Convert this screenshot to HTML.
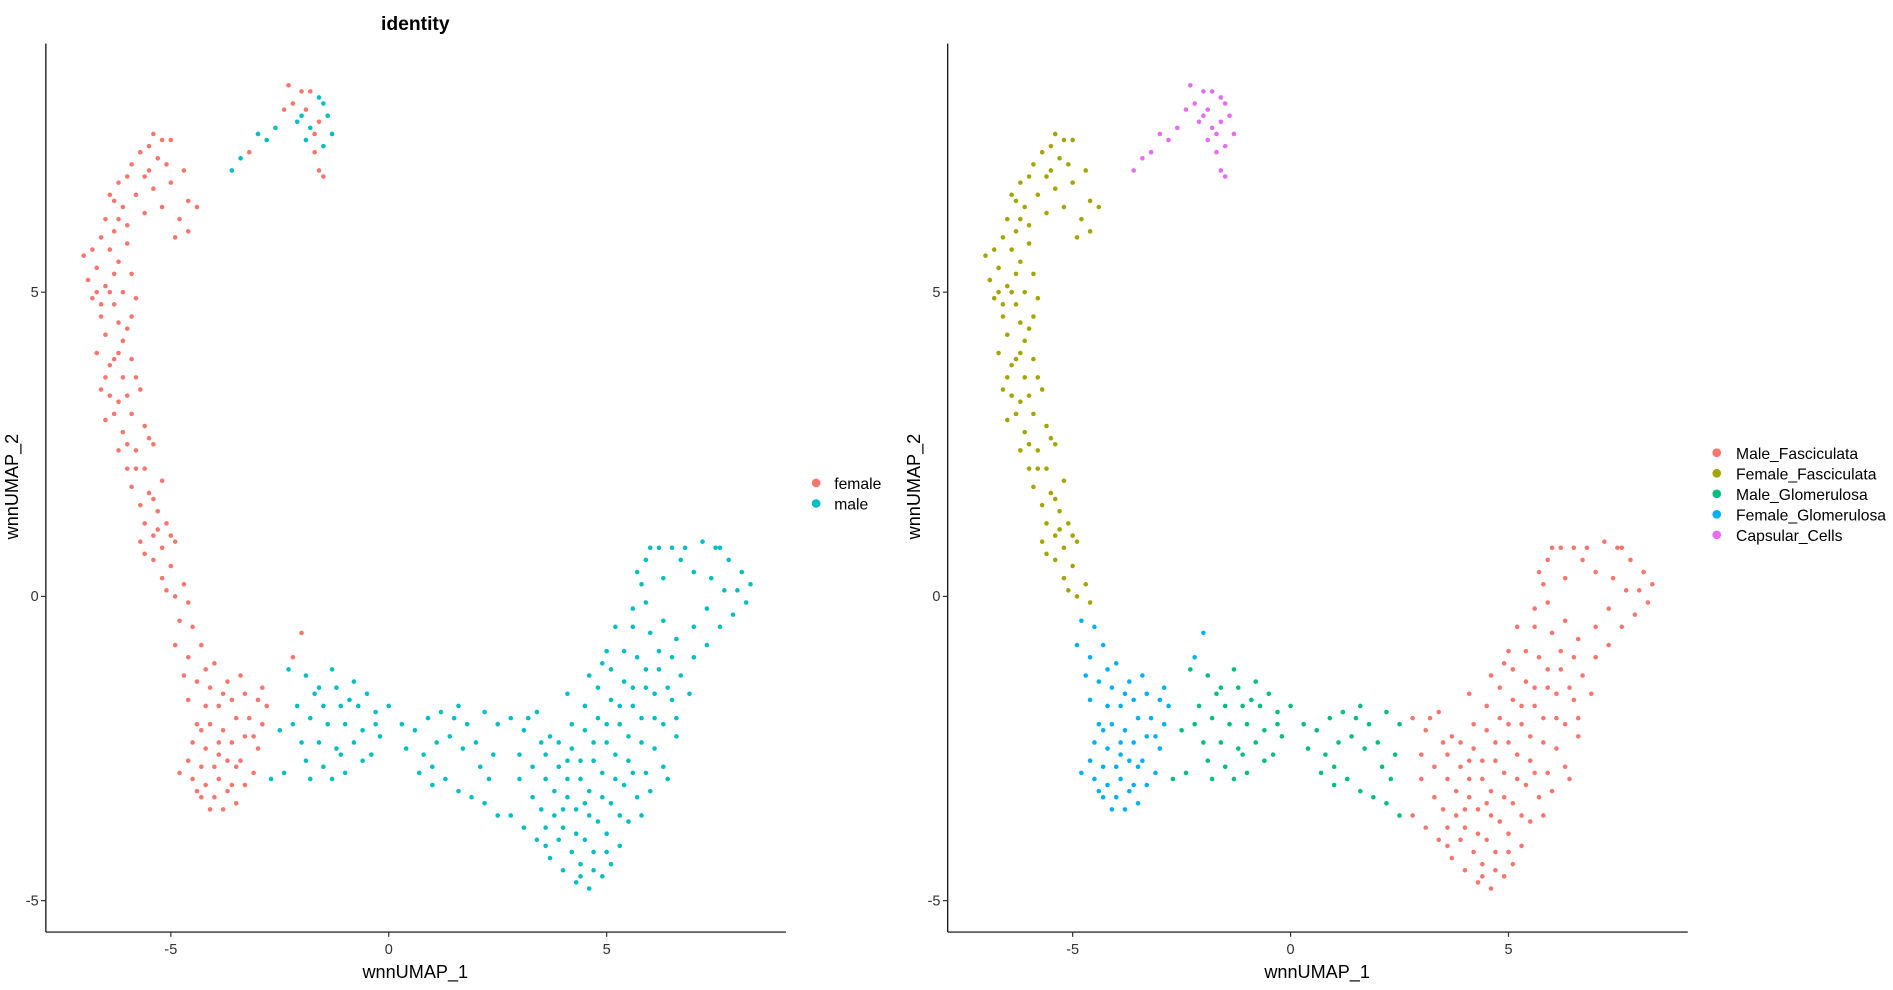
<!DOCTYPE html>
<html><head><meta charset="utf-8"><style>
html,body{margin:0;padding:0;background:#fff;}
svg{display:block;font-family:"Liberation Sans",Arial,sans-serif;}
</style></head><body>
<svg id="chart" width="1893" height="990" viewBox="0 0 1568 820" preserveAspectRatio="none" xmlns="http://www.w3.org/2000/svg">
<rect x="0" y="0" width="1568" height="820" fill="#fff"/>
</svg>
<script>
const xTicks=[-5,0,5];
const yTicks=[-5,0,5];
const ffPts=[[-5.4,7.6],[-5.2,7.5],[-5.5,7.4],[-5.0,7.5],[-5.7,7.3],[-5.3,7.2],[-5.9,7.1],[-5.1,7.1],[-6.0,6.9],[-5.6,6.9],[-4.7,7.0],[-6.2,6.8],[-5.8,6.6],[-5.4,6.7],[-5.0,6.8],[-6.4,6.6],[-6.1,6.4],[-4.6,6.5],[-4.4,6.4],[-4.8,6.2],[-4.6,6.0],[-4.9,5.9],[-5.2,6.4],[-6.5,6.2],[-6.3,6.0],[-6.0,6.1],[-6.6,5.9],[-6.8,5.7],[-6.4,5.7],[-7.0,5.6],[-6.7,5.4],[-6.2,5.5],[-6.9,5.2],[-6.5,5.1],[-6.1,5.0],[-6.8,4.9],[-6.3,4.8],[-5.8,4.9],[-6.6,4.6],[-6.2,4.5],[-5.9,4.6],[-6.5,4.3],[-6.1,4.2],[-6.7,4.0],[-6.3,3.9],[-5.9,3.9],[-6.5,3.6],[-6.1,3.6],[-6.4,3.3],[-6.0,3.3],[-5.7,3.4],[-6.3,3.0],[-5.9,3.0],[-6.5,2.9],[-6.1,2.7],[-5.6,2.8],[-6.2,2.4],[-5.8,2.4],[-5.4,2.5],[-6.0,2.1],[-5.6,2.1],[-5.9,1.8],[-5.5,1.7],[-5.2,1.9],[-5.7,1.5],[-5.3,1.4],[-5.6,1.2],[-5.1,1.2],[-5.4,1.0],[-5.7,0.9],[-5.2,0.8],[-4.9,0.9],[-5.4,0.6],[-5.0,0.5],[-5.2,0.3],[-4.7,0.2],[-4.9,0.0],[-5.1,0.1],[-4.6,-0.1],[-5.6,0.7],[-6.3,5.3],[-6.6,4.8],[-6.0,5.8],[-5.9,5.3],[-6.4,3.8],[-6.2,3.2],[-5.8,2.1],[-5.3,1.1],[-6.7,5.0],[-5.5,7.0],[-5.6,6.3],[-6.3,6.5],[-6.0,4.4],[-6.6,3.4],[-5.5,2.6],[-6.2,6.2],[-6.4,5.0],[-6.2,4.0],[-5.8,3.6],[-6.0,2.5],[-5.4,1.6],[-5.0,1.0]];
const fgPts=[[-4.8,-0.4],[-4.5,-0.5],[-4.9,-0.8],[-4.6,-1.0],[-4.3,-0.8],[-4.0,-1.1],[-4.7,-1.3],[-4.4,-1.4],[-4.1,-1.5],[-3.7,-1.4],[-3.4,-1.3],[-4.6,-1.7],[-4.2,-1.8],[-3.9,-1.8],[-3.6,-1.7],[-3.3,-1.6],[-3.0,-1.7],[-2.8,-1.8],[-4.4,-2.1],[-4.1,-2.1],[-3.8,-2.2],[-3.5,-2.0],[-3.2,-2.0],[-2.9,-2.1],[-4.5,-2.4],[-4.2,-2.5],[-3.9,-2.4],[-3.6,-2.4],[-3.3,-2.3],[-3.0,-2.5],[-4.3,-2.8],[-4.0,-2.8],[-3.7,-2.7],[-3.4,-2.7],[-3.1,-2.9],[-4.5,-3.0],[-4.2,-3.1],[-3.9,-3.0],[-3.6,-3.1],[-3.5,-3.4],[-4.0,-3.3],[-4.3,-3.3],[-3.8,-3.5],[-4.1,-3.5],[-3.3,-3.1],[-4.6,-2.7],[-4.4,-3.2],[-3.7,-3.2],[-4.8,-2.9],[-4.2,-1.2],[-3.9,-2.6],[-3.5,-2.8],[-4.3,-2.2],[-3.8,-1.6],[-3.1,-2.3],[-2.0,-0.6],[-2.2,-1.0],[-2.9,-1.5]];
const mgPts=[[-2.3,-1.2],[-1.9,-1.3],[-1.6,-1.5],[-1.2,-1.5],[-0.8,-1.4],[-0.5,-1.6],[-1.5,-1.8],[-1.1,-1.8],[-0.7,-1.8],[-0.3,-1.9],[0.0,-1.8],[-2.2,-2.1],[-1.8,-2.0],[-1.4,-2.1],[-1.0,-2.1],[-0.6,-2.2],[-0.2,-2.3],[-2.0,-2.4],[-1.6,-2.4],[-1.2,-2.5],[-0.8,-2.4],[-0.4,-2.6],[-1.9,-2.7],[-1.5,-2.8],[-1.1,-2.6],[-0.6,-2.7],[-2.4,-2.9],[-1.8,-3.0],[-1.3,-3.0],[-2.5,-2.2],[-2.7,-3.0],[0.3,-2.1],[0.6,-2.2],[0.9,-2.0],[1.2,-1.9],[1.5,-2.0],[1.8,-2.1],[2.2,-1.9],[2.5,-2.1],[0.4,-2.5],[0.8,-2.6],[1.1,-2.4],[1.4,-2.3],[1.7,-2.5],[2.0,-2.4],[2.4,-2.6],[0.7,-2.9],[1.0,-3.1],[1.3,-3.0],[1.6,-3.2],[1.9,-3.3],[2.2,-3.4],[2.5,-3.6],[1.0,-2.8],[2.1,-2.8],[-1.0,-2.9],[-0.3,-2.1],[-1.7,-1.6],[-2.1,-1.8],[1.6,-1.8],[2.3,-3.0],[-1.3,-1.2],[-0.9,-1.7]];
const mfPts=[[2.8,-2.0],[3.1,-2.2],[3.4,-1.9],[3.7,-2.3],[3.0,-2.6],[3.3,-2.8],[3.6,-2.6],[3.9,-2.4],[4.2,-2.1],[4.5,-1.8],[4.8,-1.5],[5.1,-1.2],[5.4,-0.9],[5.2,-0.5],[5.6,-0.2],[5.8,0.2],[5.9,0.6],[6.2,0.8],[6.5,0.8],[6.8,0.8],[7.2,0.9],[7.5,0.8],[7.8,0.6],[8.1,0.4],[8.3,0.2],[8.2,-0.1],[7.9,-0.3],[7.6,-0.5],[7.3,-0.8],[7.0,-1.0],[6.7,-1.3],[6.5,-1.7],[6.3,-2.1],[6.1,-2.5],[5.9,-2.9],[5.7,-3.3],[5.5,-3.7],[5.3,-4.1],[5.1,-4.4],[4.9,-4.6],[4.6,-4.8],[4.3,-4.7],[4.0,-4.5],[3.7,-4.3],[3.4,-4.0],[3.1,-3.8],[2.8,-3.6],[3.5,-3.5],[3.8,-3.2],[4.1,-3.0],[4.4,-2.7],[4.7,-2.4],[5.0,-2.1],[5.3,-1.8],[5.6,-1.5],[5.9,-1.2],[6.2,-0.9],[4.0,-3.8],[4.3,-3.5],[4.6,-3.2],[4.9,-2.9],[5.2,-2.6],[5.5,-2.3],[5.8,-2.0],[6.1,-1.6],[4.2,-4.2],[4.5,-4.0],[4.8,-3.7],[5.1,-3.4],[5.4,-3.1],[4.4,-4.4],[4.7,-4.2],[5.0,-3.9],[3.9,-4.0],[3.6,-3.8],[3.3,-3.3],[3.6,-3.0],[3.9,-2.8],[4.2,-2.5],[4.5,-2.2],[4.8,-2.0],[5.1,-1.7],[5.4,-1.4],[5.7,-1.0],[6.0,-0.6],[5.6,-0.5],[5.9,-0.1],[6.3,0.3],[6.0,0.8],[7.0,0.4],[7.4,0.3],[7.7,0.1],[7.3,-0.2],[7.0,-0.5],[6.6,-0.7],[6.9,-1.6],[6.6,-2.3],[6.3,-2.8],[6.0,-3.2],[5.8,-3.6],[4.3,-3.9],[4.6,-3.6],[4.9,-3.3],[5.2,-3.0],[5.5,-2.7],[5.8,-2.4],[6.1,-2.0],[4.7,-4.5],[4.4,-4.6],[5.0,-4.2],[3.8,-3.6],[4.1,-3.3],[4.4,-3.0],[4.7,-2.7],[5.0,-2.4],[5.3,-2.1],[5.6,-1.8],[5.9,-1.5],[6.2,-1.2],[6.5,-1.0],[3.5,-2.4],[3.2,-2.0],[4.1,-1.6],[4.6,-1.3],[5.0,-0.9],[6.6,-2.0],[6.4,-1.5],[8.0,0.1],[6.7,0.6],[5.7,0.4],[7.6,0.8],[6.4,-3.0],[3.0,-3.0],[4.0,-3.5],[4.5,-3.4],[5.3,-3.6],[3.6,-4.1],[4.1,-2.7],[5.6,-2.9],[4.9,-1.1],[6.3,-0.4]];
const capPts=[[-2.3,8.4],[-2.0,8.3],[-1.8,8.3],[-2.2,8.1],[-1.9,8.0],[-1.6,8.2],[-1.5,8.1],[-2.1,7.8],[-1.8,7.7],[-1.6,7.8],[-1.4,7.9],[-1.9,7.5],[-1.7,7.3],[-1.6,7.0],[-1.5,7.4],[-1.3,7.6],[-1.7,7.6],[-2.0,7.9],[-2.4,8.0],[-3.0,7.6],[-2.8,7.5],[-3.2,7.3],[-3.4,7.2],[-2.6,7.7],[-3.6,7.0],[-1.5,6.9]];
const capSex=["F","F","F","F","F","M","M","M","M","F","M","M","F","F","M","M","F","M","F","M","M","F","M","M","M","F"];
const groups=["Male_Fasciculata","Female_Fasciculata","Male_Glomerulosa","Female_Glomerulosa","Capsular_Cells"];
const groupColors=["#F8766D","#A3A500","#00BF7D","#00B0F6","#E76BF3"];
const sexLabels=["female","male"];
const sexColors=["#F8766D","#00BFC4"];

const NS="http://www.w3.org/2000/svg";
const svg=document.getElementById('chart');
function el(tag,attrs,parent){const e=document.createElementNS(NS,tag);for(const k in attrs)e.setAttribute(k,attrs[k]);(parent||svg).appendChild(e);return e;}
function txt(s,attrs,parent){const e=el('text',attrs,parent);e.textContent=s;return e;}
const yScale=v=>494-v*50.4;
function panel(off,name){
  const g=el('g',{});
  
  
  const xScale=v=>off+322+v*36.1;
  const ax=off+38;
  const yl=el('line',{x1:ax,y1:36,x2:ax,y2:772,stroke:'#000','stroke-width':1},g);
  
  const xl=el('line',{x1:ax,y1:772,x2:off+651,y2:772,stroke:'#000','stroke-width':1},g);
  
  xTicks.forEach(t=>{const x=xScale(t);
    const tl=el('line',{x1:x,y1:772,x2:x,y2:776,stroke:'#333'},g);
    
    const tt=txt(String(t).replace('-','-'),{x:x,y:790,'text-anchor':'middle','font-size':12,fill:'#333'},g);
    });
  yTicks.forEach(t=>{const y=yScale(t);
    const tl=el('line',{x1:ax-4,y1:y,x2:ax,y2:y,stroke:'#333'},g);
    
    const tt=txt(String(t),{x:ax-6,y:y+4,'text-anchor':'end','font-size':12,fill:'#333'},g);
    });
  const xt=txt('wnnUMAP_1',{x:off+344,y:810,'text-anchor':'middle','font-size':15,fill:'#000'},g);
  
  const yt=txt('wnnUMAP_2',{x:0,y:0,'text-anchor':'middle','font-size':15,fill:'#000',transform:`translate(${off+15},403) rotate(-90)`},g);
  
  return {g,xScale};
}
function dot(g,x,y,c){const p=el('circle',{cx:x,cy:y,r:1.9,fill:c},g);
  }

// left panel: sex
const L=panel(0,'identity-panel');
const t=txt('identity',{x:344,y:25,'text-anchor':'middle','font-size':16,'font-weight':'bold',fill:'#000'},L.g);

[[ffPts,0],[fgPts,0],[mgPts,1],[mfPts,1]].forEach(([pts,s])=>pts.forEach(p=>dot(L.g,L.xScale(p[0]),yScale(p[1]),sexColors[s])));
capPts.forEach((p,i)=>dot(L.g,L.xScale(p[0]),yScale(p[1]),sexColors[capSex[i]==='F'?0:1]));
sexLabels.forEach((s,i)=>{const lg=el('g',{},svg);
  
  el('circle',{cx:676,cy:400+i*17,r:3.6,fill:sexColors[i]},lg);
  txt(s,{x:691,y:405+i*17,'font-size':13,fill:'#000'},lg);});

// right panel: groups
const R=panel(747,'cluster-panel');
[mfPts,ffPts,mgPts,fgPts,capPts].forEach((pts,gi)=>pts.forEach(p=>dot(R.g,R.xScale(p[0]),yScale(p[1]),groupColors[gi])));
groups.forEach((s,i)=>{const lg=el('g',{},svg);
  
  el('circle',{cx:1422,cy:375+i*17,r:3.6,fill:groupColors[i]},lg);
  txt(s,{x:1438,y:380+i*17,'font-size':13,fill:'#000'},lg);});
</script>
</body></html>
